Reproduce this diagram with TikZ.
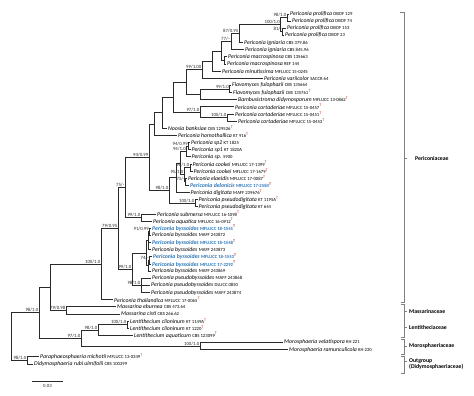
\documentclass[tikz,border=0pt]{standalone}
\usepackage{fontspec}
\setmainfont{Carlito}
\definecolor{treeline}{HTML}{2B2B2B}
\definecolor{newblue}{HTML}{2E75B6}
\definecolor{typered}{HTML}{C0392B}
\definecolor{cladegray}{HTML}{808080}
\newcommand{\acc}[1]{{\upshape\fontsize{4.7}{5}\selectfont #1}}
\newcommand{\typestrain}{\textsuperscript{\upshape\color{typered}T}}
\tikzset{
  branch/.style={draw=treeline,line width=0.8pt},
  leaf/.style={anchor=west,inner sep=1pt,text=black,font=\fontsize{5.8}{6}\selectfont\itshape},
  newleaf/.style={leaf,text=newblue,font=\fontsize{5.8}{6}\selectfont\bfseries\itshape},
  supp/.style={inner sep=0.5pt,text=treeline,font=\fontsize{4.8}{5}\selectfont},
  clade/.style={draw=cladegray,line width=0.6pt},
  cladename/.style={anchor=west,inner sep=1pt,font=\fontsize{5.8}{6.4}\selectfont\bfseries,align=left}
}
\begin{document}
\begin{tikzpicture}[x=1pt,y=-1pt]
\useasboundingbox (0,0) rectangle (474,396);

\node[leaf] (prol129) at (289,14.0) {Periconia prolifica \acc{DBOF 129}};
\node[leaf] (prol74) at (291,21.1) {Periconia prolifica \acc{DBOF 74}};
\node[leaf] (prol153) at (286,28.3) {Periconia prolifica \acc{DBOF 153}};
\node[leaf] (prol23) at (284,35.4) {Periconia prolifica \acc{DBOF 23}};
\node[leaf] (ign379) at (243,42.6) {Periconia igniaria \acc{CBS 379.86}};
\node[leaf] (ign845) at (244,49.7) {Periconia igniaria \acc{CBS 845.96}};
\node[leaf] (macr663) at (227,56.8) {Periconia macrospinosa \acc{CBS 135663}};
\node[leaf] (macr144) at (226,64.0) {Periconia macrospinosa \acc{REF 144}};
\node[leaf] (minu) at (221,71.1) {Periconia minutissima \acc{MFLUCC 15-0245}};
\node[leaf] (vari) at (263,78.3) {Periconia variicolor \acc{SACCR 64}};
\node[leaf] (flav664) at (231,85.4) {Flavomyces fulophazii \acc{CBS 135664}};
\node[leaf] (flav761) at (232,92.5) {Flavomyces fulophazii \acc{CBS 135761}\typestrain};
\node[leaf] (bamb) at (237,99.7) {Bambusistroma didymosporum \acc{MFLUCC 13-0862}\typestrain};
\node[leaf] (cort457) at (234,106.8) {Periconia cortaderiae \acc{MFLUCC 15-0457}\typestrain};
\node[leaf] (cort451) at (234,114.0) {Periconia cortaderiae \acc{MFLUCC 15-0451}\typestrain};
\node[leaf] (cort453) at (237,121.1) {Periconia cortaderiae \acc{MFLUCC 15-0453}\typestrain};
\node[leaf] (noos) at (167,128.2) {Noosia banksiae \acc{CBS 129526}\typestrain};
\node[leaf] (homo) at (177,135.4) {Periconia homothallica \acc{KT 916}\typestrain};
\node[leaf] (sp2) at (190,142.5) {Periconia sp2 \acc{KT 1825}};
\node[leaf] (sp1) at (190.5,149.7) {Periconia sp1 \acc{KT 1820A}};
\node[leaf] (sp5900) at (190.5,156.8) {Periconia sp. \acc{5900}};
\node[leaf] (cook1399) at (191.5,163.9) {Periconia cookei \acc{MFLUCC 17-1399}\typestrain};
\node[leaf] (cook1679) at (192.5,171.1) {Periconia cookei \acc{MFLUCC 17-1679}\typestrain};
\node[leaf] (elae) at (187,178.2) {Periconia elaeidis \acc{MFLUCC 17-0087}\typestrain};
\node[newleaf] (delo) at (189,185.4) {Periconia delonicis \acc{MFLUCC 17-2584}\typestrain};
\node[leaf] (digi) at (189.5,192.5) {Periconia digitata \acc{MAFF 239676}\typestrain};
\node[leaf] (psdi1195) at (197.5,199.6) {Periconia pseudodigitata \acc{KT 1195A}\typestrain};
\node[leaf] (psdi644) at (197.5,206.8) {Periconia pseudodigitata \acc{KT 644}};
\node[leaf] (subm) at (156,213.9) {Periconia submersa \acc{MFLUCC 16-1098}\typestrain};
\node[leaf] (aqua) at (152,221.1) {Periconia aquatica \acc{MFLUCC 16-0912}\typestrain};
\node[newleaf] (bys1555) at (151,228.2) {Periconia byssoides \acc{MFLUCC 18-1555}\typestrain};
\node[leaf] (bys872) at (151,235.3) {Periconia byssoides \acc{MAFF 243872}};
\node[newleaf] (bys1548) at (151,242.5) {Periconia byssoides \acc{MFLUCC 18-1548}\typestrain};
\node[leaf] (bys873) at (151,249.6) {Periconia byssoides \acc{MAFF 243873}};
\node[newleaf] (bys1553) at (152,256.8) {Periconia byssoides \acc{MFLUCC 18-1553}\typestrain};
\node[newleaf] (bys2292) at (151,263.9) {Periconia byssoides \acc{MFLUCC 17-2292}\typestrain};
\node[leaf] (bys869) at (151,271.0) {Periconia byssoides \acc{MAFF 243869}};
\node[leaf] (pby868) at (151,278.2) {Periconia pseudobyssoides \acc{MAFF 243868}};
\node[leaf] (pby850) at (150,285.3) {Periconia pseudobyssoides \acc{DLUCC 0850}};
\node[leaf] (pby874) at (150,292.5) {Periconia pseudobyssoides \acc{MAFF 243874}};
\node[leaf] (thai) at (113,299.6) {Periconia thailandica \acc{MFLUCC 17-0065}\typestrain};
\node[leaf] (ebur) at (116,306.7) {Massarina eburnea \acc{CBS 473.64}};
\node[leaf] (cist) at (120,313.9) {Massarina cisti \acc{CBS 266.62}};
\node[leaf] (clio1149) at (129,321.0) {Lentithecium clioninum \acc{KT 1149A}\typestrain};
\node[leaf] (clio1220) at (129,328.2) {Lentithecium clioninum \acc{KT 1220}\typestrain};
\node[leaf] (lentaq) at (133,335.3) {Lentithecium aquaticum \acc{CBS 123099}\typestrain};
\node[leaf] (velat) at (283,342.4) {Morosphaeria velatispora \acc{KH 221}};
\node[leaf] (ramun) at (288,349.6) {Morosphaeria ramunculicola \acc{KH 220}};
\node[leaf] (para) at (39,356.7) {Paraphaeosphaeria michotii \acc{MFLUCC 13-0349}\typestrain};
\node[leaf] (didy) at (33,363.9) {Didymosphaeria rubi ulmifolii \acc{CBS 100299}};

\coordinate[label={[supp]above left:98/1.0}] (n12) at (287,17.6);
\coordinate[label={[supp]above left:81/-}] (n34) at (282.5,31.9);
\coordinate[label={[supp]above left:100/1.0}] (nC) at (280.5,24.7);
\coordinate[label={[supp]above left:87/0.95}] (nD) at (239,33.7);
\coordinate[label={[supp]above left:77/--}] (nE) at (231,41.7);
\coordinate (nMS) at (224,60.4);
\coordinate (nF) at (221.5,51.0);
\coordinate (nG) at (212,61.1);
\coordinate[label={[supp]above left:99/1.00}] (nH) at (202,69.7);
\coordinate[label={[supp]above left:99/1.0}] (nFL) at (229.5,89.0);
\coordinate (nK) at (200,94.3);
\coordinate (nI) at (186,82.0);
\coordinate[label={[supp]above left:100/1.0}] (n1516) at (227,117.6);
\coordinate[label={[supp]above left:97/1.0}] (nCO) at (200,112.2);
\coordinate (nJ) at (173,97.1);
\coordinate (nL) at (162,112.7);
\coordinate (nT) at (154,124.0);
\coordinate[label={[supp]above left:94/0.99}] (nSP2) at (188.5,146.1);
\coordinate[label={[supp]above left:94/1.0}] (nSP) at (186.5,151.5);
\coordinate[label={[supp]above left:98/1.0}] (n2223) at (190,167.5);
\coordinate[label={[supp]above left:75/-}] (n2425) at (185.5,181.8);
\coordinate[label={[supp]above left:95/1.0}] (nY) at (184,174.7);
\coordinate (nZ) at (180,163.1);
\coordinate (nU) at (176,177.8);
\coordinate[label={[supp]above left:100/1.0}] (nPD) at (195,203.2);
\coordinate[label={[supp]above left:98/1.0}] (nDG) at (169,190.5);
\coordinate[label={[supp]above left:94/0.99}] (nM) at (149,157.3);
\coordinate[label={[supp]above left:99/1.0}] (nSA) at (141,217.5);
\coordinate[label={[supp]above left:75/-}] (nN75) at (125,187.4);
\coordinate[label={[supp]above left:91/0.99}] (n3132) at (149.5,231.8);
\coordinate (n3134) at (148,240.7);
\coordinate[label={[supp]above left:74/-}] (n3536) at (149.5,260.4);
\coordinate (n3537) at (148,265.7);
\coordinate (nB) at (146,253.2);
\coordinate[label={[supp]above left:98/1.0}] (nPB) at (141,285.4);
\coordinate[label={[supp]above left:99/1.0}] (nBYS) at (132,269.3);
\coordinate[label={[supp]above left:79/0.95}] (nN79) at (118,228.4);
\coordinate[label={[supp]above left:100/1.0}] (nP) at (101,264.0);
\coordinate[label={[supp]above left:79/0.98}] (nMA) at (66,310.3);
\coordinate (nN50) at (50,287.2);
\coordinate[label={[supp]above left:100/1.0}] (nLE1) at (127,324.6);
\coordinate[label={[supp]above left:98/1.0}] (nLE) at (98,330.0);
\coordinate[label={[supp]above left:100/1.0}] (nMO) at (200,346.0);
\coordinate[label={[supp]above left:97/1.0}] (nLM) at (81,338.0);
\coordinate[label={[supp]above left:98/1.0}] (nN39) at (39,312.6);
\coordinate[label={[supp]above left:98/1.0}] (nOG) at (27,360.3);
\coordinate (nR) at (11,336.5);

\draw[branch] (n12) |- (prol129); \draw[branch] (n12) |- (prol74);
\draw[branch] (n34) |- (prol153); \draw[branch] (n34) |- (prol23);
\draw[branch] (nC) |- (n12); \draw[branch] (nC) |- (n34);
\draw[branch] (nD) |- (nC); \draw[branch] (nD) |- (ign379);
\draw[branch] (nE) |- (nD); \draw[branch] (nE) |- (ign845);
\draw[branch] (nMS) |- (macr663); \draw[branch] (nMS) |- (macr144);
\draw[branch] (nF) |- (nE); \draw[branch] (nF) |- (nMS);
\draw[branch] (nG) |- (nF); \draw[branch] (nG) |- (minu);
\draw[branch] (nH) |- (nG); \draw[branch] (nH) |- (vari);
\draw[branch] (nFL) |- (flav664); \draw[branch] (nFL) |- (flav761);
\draw[branch] (nK) |- (nFL); \draw[branch] (nK) |- (bamb);
\draw[branch] (nI) |- (nH); \draw[branch] (nI) |- (nK);
\draw[branch] (n1516) |- (cort451); \draw[branch] (n1516) |- (cort453);
\draw[branch] (nCO) |- (cort457); \draw[branch] (nCO) |- (n1516);
\draw[branch] (nJ) |- (nI); \draw[branch] (nJ) |- (nCO);
\draw[branch] (nL) |- (nJ); \draw[branch] (nL) |- (noos);
\draw[branch] (nT) |- (nL); \draw[branch] (nT) |- (homo);
\draw[branch] (nSP2) |- (sp2); \draw[branch] (nSP2) |- (sp1);
\draw[branch] (nSP) |- (nSP2); \draw[branch] (nSP) |- (sp5900);
\draw[branch] (n2223) |- (cook1399); \draw[branch] (n2223) |- (cook1679);
\draw[branch] (n2425) |- (elae); \draw[branch] (n2425) |- (delo);
\draw[branch] (nY) |- (n2223); \draw[branch] (nY) |- (n2425);
\draw[branch] (nZ) |- (nSP); \draw[branch] (nZ) |- (nY);
\draw[branch] (nU) |- (nZ); \draw[branch] (nU) |- (digi);
\draw[branch] (nPD) |- (psdi1195); \draw[branch] (nPD) |- (psdi644);
\draw[branch] (nDG) |- (nU); \draw[branch] (nDG) |- (nPD);
\draw[branch] (nM) |- (nT); \draw[branch] (nM) |- (nDG);
\draw[branch] (nSA) |- (subm); \draw[branch] (nSA) |- (aqua);
\draw[branch] (nN75) |- (nM); \draw[branch] (nN75) |- (nSA);
\draw[branch] (n3132) |- (bys1555); \draw[branch] (n3132) |- (bys872);
\draw[branch] (n3134) |- (n3132); \draw[branch] (n3134) |- (bys1548); \draw[branch] (n3134) |- (bys873);
\draw[branch] (n3536) |- (bys1553); \draw[branch] (n3536) |- (bys2292);
\draw[branch] (n3537) |- (n3536); \draw[branch] (n3537) |- (bys869);
\draw[branch] (nB) |- (n3134); \draw[branch] (nB) |- (n3537);
\draw[branch] (nPB) |- (pby868); \draw[branch] (nPB) |- (pby850); \draw[branch] (nPB) |- (pby874);
\draw[branch] (nBYS) |- (nB); \draw[branch] (nBYS) |- (nPB);
\draw[branch] (nN79) |- (nN75); \draw[branch] (nN79) |- (nBYS);
\draw[branch] (nP) |- (nN79); \draw[branch] (nP) |- (thai);
\draw[branch] (nMA) |- (ebur); \draw[branch] (nMA) |- (cist);
\draw[branch] (nN50) |- (nP); \draw[branch] (nN50) |- (nMA);
\draw[branch] (nLE1) |- (clio1149); \draw[branch] (nLE1) |- (clio1220);
\draw[branch] (nLE) |- (nLE1); \draw[branch] (nLE) |- (lentaq);
\draw[branch] (nMO) |- (velat); \draw[branch] (nMO) |- (ramun);
\draw[branch] (nLM) |- (nLE); \draw[branch] (nLM) |- (nMO);
\draw[branch] (nN39) |- (nN50); \draw[branch] (nN39) |- (nLM);
\draw[branch] (nOG) |- (para); \draw[branch] (nOG) |- (didy);
\draw[branch] (nR) |- (nN39); \draw[branch] (nR) |- (nOG);

\draw[branch] (31.7,381.7) -- (63.3,381.7);
\node[supp,anchor=north] (scale) at (47.5,383.5) {0.03};

\draw[clade] (400,12.7) -- (404,12.7) -- (404,302) -- (401,302);
\draw[clade] (404,158) -- (407,158);
\node[cladename] (peri) at (414,158) {Periconiaceae};
\draw[clade] (401,304) -- (404,304) -- (404,337) -- (401,337);
\draw[clade] (404,311) -- (407,311);
\node[cladename] (massa) at (408,311) {Massarinaceae};
\draw[clade] (404,327) -- (407,327);
\node[cladename] (lenti) at (408,327) {Lentitheciaceae};
\draw[clade] (401,339) -- (404,339) -- (404,354) -- (401,354);
\draw[clade] (404,346) -- (407,346);
\node[cladename] (moro) at (408,346) {Morosphaeriaceae};
\draw[clade] (401,356) -- (404,356) -- (404,373) -- (401,373);
\draw[clade] (404,361) -- (407,361);
\node[cladename,anchor=north west] (outg) at (408,357) {Outgroup\\(Didymosphaeriaceae)};

\end{tikzpicture}
\end{document}
